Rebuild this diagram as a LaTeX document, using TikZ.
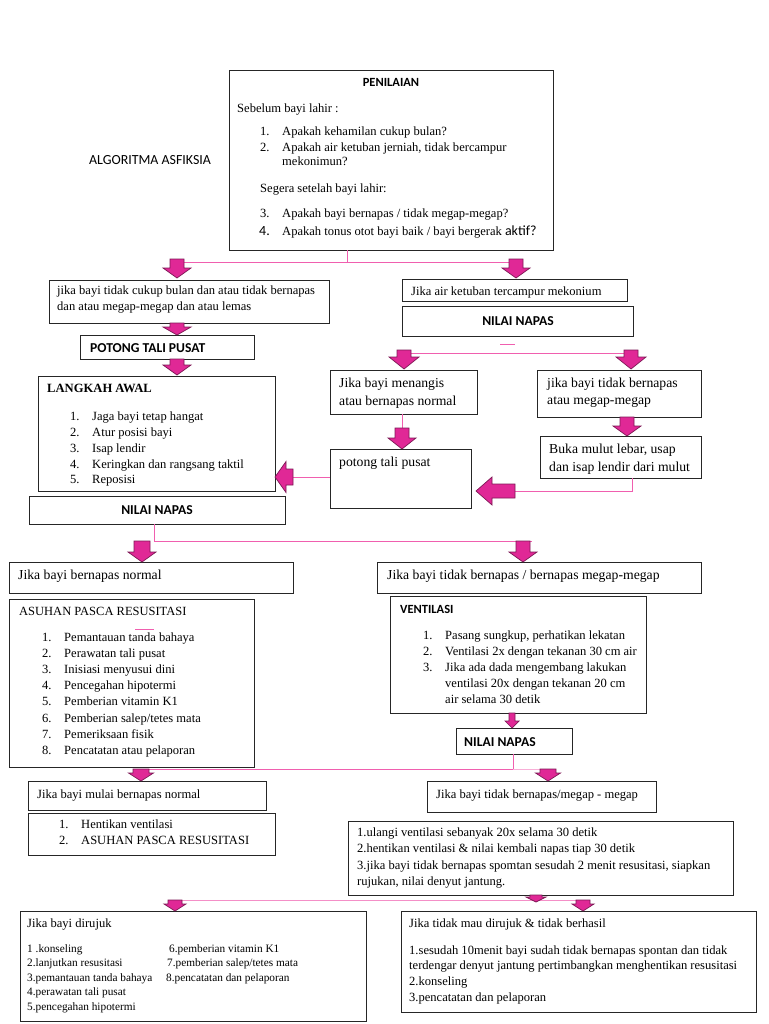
\documentclass[tikz,border=0pt]{standalone}
\usepackage{fontspec}
\setmainfont{Liberation Serif}
\newfontfamily\carl{Carlito}
\definecolor{magen}{RGB}{224,40,150}
\definecolor{darkmag}{RGB}{125,25,85}
\definecolor{linkpink}{RGB}{240,95,175}
\newcounter{tn}
\newcommand\tx[4][]{\stepcounter{tn}\node[txt,#1] (t\the\value{tn}) at (#2,#3) {#4};}
\newcommand\bx[5]{\node[box, minimum width={(#4-#2)*1pt}, minimum height={(#5-#3)*1pt}] (#1) at ({(#2+#4)/2},{(#3+#5)/2}) {};}
\newcommand\dar[6]{\filldraw[blk] ({#1-#5},#2) -- ({#1+#5},#2) -- ({#1+#5},#3) -- ({#1+#6},#3) -- (#1,#4) -- ({#1-#6},#3) -- ({#1-#5},#3) -- cycle;}
\newcommand\lar[6]{\filldraw[blk] (#2,{#1-#5}) -- (#2,{#1+#5}) -- (#3,{#1+#5}) -- (#3,{#1+#6}) -- (#4,#1) -- (#3,{#1-#6}) -- (#3,{#1-#5}) -- cycle;}
\begin{document}
\begin{tikzpicture}[x=1pt,y=-1pt,
 box/.style={draw=black!85, line width=0.9pt, inner sep=0pt},
 txt/.style={anchor=mid west, inner sep=0pt, yshift=-2pt, font=\fontsize{12.55}{14}\selectfont},
 big/.style={font=\fontsize{13.7}{16}\selectfont},
 sml/.style={font=\fontsize{11.3}{13}\selectfont},
 sbold/.style={font=\carl\bfseries\fontsize{12.5}{15}\selectfont},
 sboldl/.style={font=\carl\bfseries\fontsize{13.6}{16}\selectfont},
 plink/.style={draw=linkpink, line width=1pt},
 blk/.style={fill=magen, draw=darkmag, line width=0.7pt, line join=miter}]
\fill[white] (0,0) rectangle (768,1024);
\useasboundingbox (0,0) rectangle (768,1024);

% ---------- boxes ----------
\bx{pen}{229}{70}{553}{250}
\bx{A}{49}{280}{329}{323}
\bx{B}{402}{279}{627}{301}
\bx{C}{402}{306}{633}{336}
\bx{D}{80}{335}{254}{359}
\bx{LA}{38}{376}{275}{491}
\bx{E}{330}{370}{477}{414}
\bx{F}{537}{370}{701}{417}
\bx{G}{540}{436}{701}{478}
\bx{H}{330}{449}{471}{508}
\bx{I}{29}{496}{285}{524}
\bx{J}{9}{562}{293}{593}
\bx{K}{377}{562}{701}{593}
\bx{L}{9}{599}{254}{767}
\bx{M}{390}{596}{646}{713}
\bx{N}{456}{728}{572}{754}
\bx{O}{28}{781}{266}{810}
\bx{P}{28}{813}{275}{855}
\bx{Q}{427}{781}{656}{812}
\bx{R}{348}{821}{733}{895}
\bx{S}{20}{911}{366}{1021}
\bx{T}{401}{911}{756}{1012}

% ---------- texts ----------
\tx[font=\carl\fontsize{13.9}{16}\selectfont]{89}{160}{ALGORITMA ASFIKSIA}

\tx[sbold,anchor=mid]{391}{82}{PENILAIAN}
\tx{237}{108}{Sebelum bayi lahir :}
\tx{260}{131}{1.}\tx{282}{131}{Apakah kehamilan cukup bulan?}
\tx{260}{147}{2.}\tx{282}{147}{Apakah air ketuban jerniah, tidak bercampur}
\tx{282}{161}{mekonimun?}
\tx{260}{188}{Segera setelah bayi lahir:}
\tx{260}{213}{3.}\tx{282}{213}{Apakah bayi bernapas / tidak megap-megap?}
\tx[font=\carl\fontsize{14}{16}\selectfont]{259}{231}{4.}
\tx{282}{231}{Apakah tonus otot bayi baik / bayi bergerak {\carl\fontsize{14}{16}\selectfont aktif?}}

\tx{57}{290}{jika bayi tidak cukup bulan dan atau tidak bernapas}
\tx{57}{306}{dan atau megap-megap dan atau lemas}
\tx{411}{291}{Jika air ketuban tercampur mekonium}
\tx[sboldl,anchor=mid]{518}{321}{NILAI NAPAS}
\tx[sboldl]{90}{348}{POTONG TALI PUSAT}

\tx[font=\bfseries\fontsize{12.6}{14}\selectfont]{47}{388}{LANGKAH AWAL}
\tx{70}{416}{1.}\tx{92}{416}{Jaga bayi tetap hangat}
\tx{70}{432}{2.}\tx{92}{432}{Atur posisi bayi}
\tx{70}{448}{3.}\tx{92}{448}{Isap lendir}
\tx{70}{464}{4.}\tx{92}{464}{Keringkan dan rangsang taktil}
\tx{70}{479}{5.}\tx{92}{479}{Reposisi}

\tx[big]{339}{383}{Jika bayi menangis}
\tx[big]{339}{401}{atau bernapas normal}
\tx[big]{547}{383}{jika bayi tidak bernapas}
\tx[big]{547}{400}{atau megap-megap}
\tx[big]{549}{449}{Buka mulut lebar, usap}
\tx[big]{549}{467}{dan isap lendir dari mulut}
\tx[big]{339}{462}{potong tali pusat}

\tx[sboldl,anchor=mid]{157}{510}{NILAI NAPAS}
\tx[big]{18}{575}{Jika bayi bernapas normal}
\tx[big]{387}{575}{Jika bayi tidak bernapas / bernapas megap-megap}

\tx[font=\fontsize{12.5}{14}\selectfont]{19}{611}{ASUHAN PASCA RESUSITASI}
\tx{42}{637}{1.}\tx{64}{637}{Pemantauan tanda bahaya}
\tx{42}{653}{2.}\tx{64}{653}{Perawatan tali pusat}
\tx{42}{669}{3.}\tx{64}{669}{Inisiasi menyusui dini}
\tx{42}{685}{4.}\tx{64}{685}{Pencegahan hipotermi}
\tx{42}{701}{5.}\tx{64}{701}{Pemberian vitamin K1}
\tx{42}{718}{6.}\tx{64}{718}{Pemberian salep/tetes mata}
\tx{42}{734}{7.}\tx{64}{734}{Pemeriksaan fisik}
\tx{42}{750}{8.}\tx{64}{750}{Pencatatan atau pelaporan}

\tx[sbold]{400}{609}{VENTILASI}
\tx{423}{635}{1.}\tx{445}{635}{Pasang sungkup, perhatikan lekatan}
\tx{423}{651}{2.}\tx{445}{651}{Ventilasi 2x dengan tekanan 30 cm air}
\tx{423}{667}{3.}\tx{445}{667}{Jika ada dada mengembang lakukan}
\tx{445}{683}{ventilasi 20x dengan tekanan 20 cm}
\tx{445}{699}{air selama 30 detik}
\tx[sboldl]{464}{742}{NILAI NAPAS}

\tx{37}{794}{Jika bayi mulai bernapas normal}
\tx{59}{824}{1.}\tx{81}{824}{Hentikan ventilasi}
\tx{59}{840}{2.}\tx{81}{840}{ASUHAN PASCA RESUSITASI}
\tx{436}{794}{Jika bayi tidak bernapas/megap - megap}

\tx{357}{832}{1.ulangi ventilasi sebanyak 20x selama 30 detik}
\tx{357}{848}{2.hentikan ventilasi \& nilai kembali napas tiap 30 detik}
\tx{357}{865}{3.jika bayi tidak bernapas spomtan sesudah 2 menit resusitasi, siapkan}
\tx{357}{881}{rujukan, nilai denyut jantung.}

\tx{27}{923}{Jika bayi dirujuk}
\tx[sml]{27}{948}{1 .konseling}
\tx[sml]{27}{962}{2.lanjutkan resusitasi}
\tx[sml]{27}{977}{3.pemantauan tanda bahaya}
\tx[sml]{27}{991}{4.perawatan tali pusat}
\tx[sml]{27}{1006}{5.pencegahan hipotermi}
\tx[sml]{169}{948}{6.pemberian vitamin K1}
\tx[sml]{167}{962}{7.pemberian salep/tetes mata}
\tx[sml]{166}{977}{8.pencatatan dan pelaporan}

\tx{409}{923}{Jika tidak mau dirujuk \& tidak berhasil}
\tx{409}{950}{1.sesudah 10menit bayi sudah tidak bernapas spontan dan tidak}
\tx{409}{965}{terdengar denyut jantung pertimbangkan menghentikan resusitasi}
\tx{409}{981}{2.konseling}
\tx{409}{997}{3.pencatatan dan pelaporan}

% ---------- connector lines ----------
\coordinate (j1) at (347,262);
\coordinate (j1l) at (184,262);
\coordinate (j1r) at (510,262);
\draw[plink] (pen.south -| j1) -- (j1);
\draw[plink] (j1l) -- (j1r);
\coordinate (d1a) at (500,344); \coordinate (d1b) at (515,344);
\draw[plink] (d1a) -- (d1b);
\coordinate (j2l) at (411,353); \coordinate (j2r) at (632,353);
\draw[plink] (j2l) -- (j2r);
\coordinate (j3) at (402,428);
\draw[plink] (E.south -| j3) -- (j3);
\coordinate (j4) at (632,491); \coordinate (j4l) at (515,491);
\draw[plink] (G.south -| j4) -- (j4) -- (j4l);
\coordinate (j5) at (293,477);
\draw[plink] (H.west |- j5) -- (j5);
\coordinate (j6) at (154,541); \coordinate (j6r) at (532,541);
\draw[plink] (I.south -| j6) -- (j6) -- (j6r);
\coordinate (d2a) at (135,629); \coordinate (d2b) at (154,629);
\draw[plink] (d2a) -- (d2b);
\coordinate (j7) at (513,769); \coordinate (j7l) at (149,769); \coordinate (j7r) at (541,769);
\draw[plink] (N.south -| j7) -- (j7) -- (j7l);
\draw[draw=linkpink!50, line width=1pt] (j7) -- (j7r);
\coordinate (j8l) at (174,900); \coordinate (j8r) at (583,900);
\draw[plink, draw=linkpink!70] (j8l) -- (j8r);

% ---------- block arrows ----------
\dar{177}{259}{268}{278}{7}{14}
\dar{516}{259}{268}{278}{7}{14}
\dar{177}{323}{327}{335}{7}{14}
\dar{177}{359}{365}{375}{7}{14}
\dar{404}{350}{357}{369}{7}{15}
\dar{631}{350}{357}{369}{7}{15}
\dar{402}{428}{438}{449}{7}{14}
\dar{627}{417}{426}{436}{7}{14}
\dar{142}{541}{552}{562}{8}{14}
\dar{523}{541}{552}{562}{7}{14}
\dar{512}{713}{721}{728}{3}{7}
\dar{141}{769}{773}{781}{8}{12.5}
\dar{548}{769}{773}{781}{8}{12.5}
\dar{536}{895}{897}{902}{6}{10}
\dar{175}{900}{904}{911}{7}{11}
\dar{583}{900}{904}{911}{7}{11}
\lar{477}{293}{286}{275}{8}{15.5}
\lar{491}{515}{492}{476}{7}{14}
\end{tikzpicture}
\end{document}
